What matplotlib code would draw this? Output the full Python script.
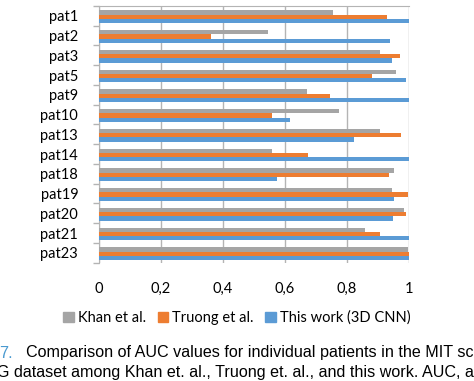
import numpy as np
import matplotlib
matplotlib.use("Agg")
import matplotlib.pyplot as plt
from matplotlib.patches import Patch

patients = ["pat1", "pat2", "pat3", "pat5", "pat9", "pat10", "pat13",
            "pat14", "pat18", "pat19", "pat20", "pat21", "pat23"]
khan = [0.754, 0.544, 0.906, 0.957, 0.671, 0.773, 0.908,
        0.557, 0.953, 0.944, 0.984, 0.858, 0.997]
truong = [0.928, 0.362, 0.970, 0.881, 0.745, 0.558, 0.975,
          0.673, 0.935, 0.997, 0.989, 0.906, 1.0]
this_work = [1.0, 0.939, 0.944, 0.989, 1.0, 0.617, 0.823,
             1.0, 0.574, 0.953, 0.948, 1.0, 1.0]
xticks = [0, 0.2, 0.4, 0.6, 0.8, 1.0]
xtick_labels = ["0", "0,2", "0,4", "0,6", "0,8", "1"]
series_names = ["Khan et al.", "Truong et al.", "This work (3D CNN)"]

c_gray = "#a5a5a5"
c_orange = "#ed7d31"
c_blue = "#5b9bd5"
grid_c = "#b4b4b4"

W, H = 474, 381
fig = plt.figure(figsize=(W / 100, H / 100), dpi=100)
ax = fig.add_axes([99 / W, 1 - 262.7 / H, 310 / W, 256.7 / H])

y = np.arange(len(patients)) + 0.05
h = 0.215
ax.barh(y - h, khan, height=h, color=c_gray, zorder=3)
ax.barh(y, truong, height=h, color=c_orange, zorder=3)
ax.barh(y + h, this_work, height=h, color=c_blue, zorder=3)

ax.set_xlim(0, 1)
ax.set_ylim(len(patients) - 0.5, -0.5)

ax.set_xticks(xticks)
ax.set_xticklabels(xtick_labels, fontsize=10.5, family="Lato")
ax.tick_params(axis="x", length=0, pad=14)
ax.grid(axis="x", color=grid_c, linewidth=1, zorder=0)

ax.set_yticks(np.arange(len(patients)))
ax.set_yticklabels(patients, fontsize=10.5, family="Lato")
ax.set_yticks(np.arange(len(patients) + 1) - 0.5, minor=True)
ax.tick_params(axis="y", which="major", length=0, pad=15)
ax.tick_params(axis="y", which="minor", length=4, color=grid_c, width=1)

for s in ["right", "bottom"]:
    ax.spines[s].set_visible(False)
ax.spines["left"].set_color(grid_c)
ax.spines["top"].set_color(grid_c)

handles = [Patch(color=c) for c in [c_gray, c_orange, c_blue]]
fig.legend(handles, series_names, loc="center", bbox_to_anchor=(237 / W, 1 - 318 / H),
           ncol=3, frameon=False, handlelength=0.7, handleheight=0.7,
           handletextpad=0.3, columnspacing=0.8, prop={"family": "Lato", "size": 10.5})

# cropped figure caption
fig.text(-1 / W, 1 - 353 / H, "7.", color="#4a9ad0", fontsize=11.6,
         family="Liberation Sans", va="center")
fig.text(26 / W, 1 - 353 / H, "Comparison of AUC values for individual patients in the MIT scalp",
         fontsize=11.6, family="Liberation Sans", va="center")
fig.text(-3 / W, 1 - 372 / H, "G dataset among Khan et. al., Truong et. al., and this work. AUC, and",
         fontsize=11.6, family="Liberation Sans", va="center")

fig.savefig("out.png", dpi=100)
